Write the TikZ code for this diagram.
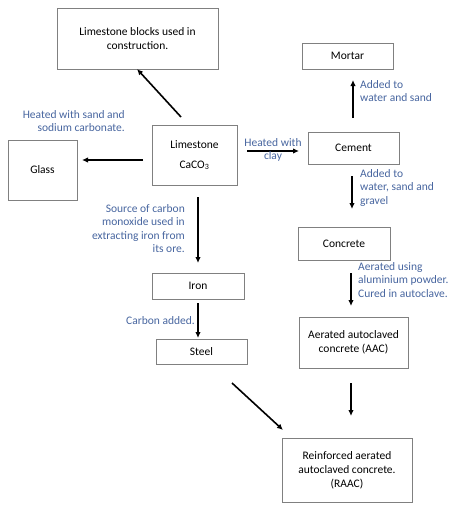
\documentclass[tikz,border=0pt]{standalone}
\usepackage{fontspec}
\setmainfont{Carlito}
\usetikzlibrary{arrows.meta}
\definecolor{lbl}{RGB}{72,102,160}
\definecolor{edge}{RGB}{128,128,128}
\begin{document}
\begin{tikzpicture}[x=1pt,y=-1pt,
  box/.style={draw=edge,line width=0.7pt,fill=white,inner sep=0pt,font=\fontsize{11.5}{14}\selectfont,align=center},
  lab/.style={text=lbl,inner sep=0pt,font=\fontsize{11.5}{13.5}\selectfont},
  arr/.style={line width=1.6pt,-{Latex[length=6pt,width=5.5pt]}}]
\useasboundingbox[fill=white] (0,0) rectangle (474,514);
% boxes
\node[box,minimum width=161pt,minimum height=61pt] (blocks) at (137.5,38.5) {Limestone blocks used in\\construction.};
\node[box,minimum width=85pt,minimum height=60pt] (lime) at (194.5,155) {Limestone\\[6pt]CaCO\textsubscript{3}};
\node[box,minimum width=69pt,minimum height=60pt] (glass) at (42.5,170) {Glass};
\node[box,minimum width=91pt,minimum height=26pt] (mortar) at (347.5,56) {Mortar};
\node[box,minimum width=91pt,minimum height=32pt] (cement) at (353.5,148) {Cement};
\node[box,minimum width=92pt,minimum height=33pt] (concrete) at (344,243.5) {Concrete};
\node[box,minimum width=109pt,minimum height=51pt] (aac) at (353.5,342.5) {Aerated autoclaved\\concrete (AAC)};
\node[box,minimum width=92pt,minimum height=26pt] (iron) at (198,286) {Iron};
\node[box,minimum width=91pt,minimum height=25pt] (steel) at (201.5,351.5) {Steel};
\node[box,minimum width=130pt,minimum height=64pt] (raac) at (347,470) {Reinforced aerated\\autoclaved concrete.\\(RAAC)};
% arrow end points
\coordinate (a1s) at (181,117); \coordinate (a1e) at (137,69);
\coordinate (a2s) at (143,160); \coordinate (a2e) at (82,160);
\coordinate (a3s) at (247,151); \coordinate (a3e) at (299,151);
\coordinate (a4s) at (353,118); \coordinate (a4e) at (353,80);
\coordinate (a5s) at (352,176); \coordinate (a5e) at (352,209);
\coordinate (a6s) at (351,273); \coordinate (a6e) at (351,306);
\coordinate (a7s) at (351,383); \coordinate (a7e) at (351,416);
\coordinate (a8s) at (232,383); \coordinate (a8e) at (283,430);
\coordinate (a9s) at (198,197); \coordinate (a9e) at (198,263);
\coordinate (a10s) at (198,303); \coordinate (a10e) at (198,338);
% arrows
\draw[arr] (a1s) -- (a1e);
\draw[arr] (a2s) -- (a2e);
\draw[arr] (a3s) -- (a3e);
\draw[arr] (a4s) -- (a4e);
\draw[arr] (a5s) -- (a5e);
\draw[arr] (a6s) -- (a6e);
\draw[arr] (a7s) -- (a7e);
\draw[arr] (a8s) -- (a8e);
\draw[arr] (a9s) -- (a9e);
\draw[arr] (a10s) -- (a10e);
% labels
\node[lab,align=right,anchor=north east] (l1) at (125,110) {Heated with sand and\\sodium carbonate.};
\node[lab,align=center,anchor=north] (l2) at (273,138) {Heated with\\clay};
\node[lab,align=left,anchor=north west] (l3) at (360,80) {Added to\\water and sand};
\node[lab,align=left,anchor=north west] (l4) at (360,169) {Added to\\water, sand and\\gravel};
\node[lab,align=left,anchor=north west] (l5) at (358,262) {Aerated using\\aluminium powder.\\Cured in autoclave.};
\node[lab,align=right,anchor=north east] (l6) at (185,204) {Source of carbon\\monoxide used in\\extracting iron from\\its ore.};
\node[lab,align=right,anchor=north east] (l7) at (195,316) {Carbon added.};
\end{tikzpicture}
\end{document}
